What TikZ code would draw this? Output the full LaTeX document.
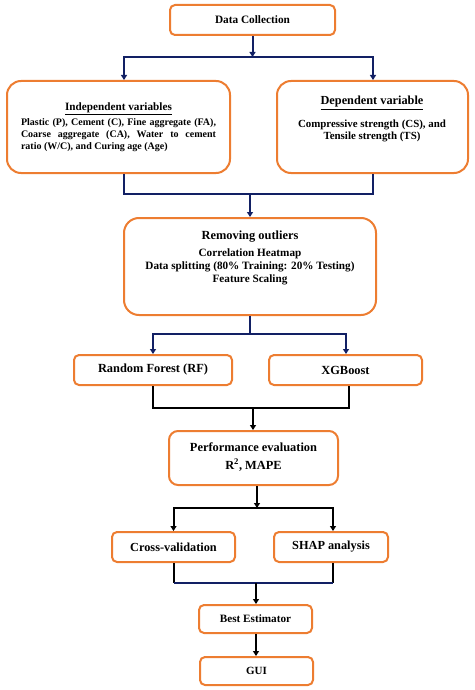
\documentclass[tikz,border=0pt]{standalone}
\usepackage{fontspec}
\setmainfont{Liberation Serif}
\usetikzlibrary{arrows.meta,calc}
\definecolor{boxorange}{RGB}{237,125,49}
\definecolor{navyline}{RGB}{18,32,100}
\begin{document}
\begin{tikzpicture}[x=1pt,y=-1pt,
  box/.style={draw=boxorange,line width=2pt,fill=white,rounded corners=#1,inner sep=0pt},
  box/.default=5pt,
  txt/.style={font=\bfseries,align=center,inner sep=0pt},
  nline/.style={draw=navyline,line width=2pt},
  bline/.style={draw=black,line width=2pt},
  tip/.style={-{Triangle[width=6pt,length=5pt]}}]
\useasboundingbox (0,0) rectangle (474,690);
% boxes
\node[box, minimum width=165pt, minimum height=30pt] (dc) at (252.5,20) {};
\node[box=14pt, minimum width=223pt, minimum height=92pt] (ind) at (118.5,127) {};
\node[box=14pt, minimum width=191pt, minimum height=92pt] (dep) at (372.5,127) {};
\node[box=15pt, minimum width=252pt, minimum height=97pt] (rem) at (250,266.5) {};
\node[box, minimum width=158pt, minimum height=30pt] (rf) at (153,370) {};
\node[box, minimum width=153pt, minimum height=30pt] (xgb) at (345.5,370) {};
\node[box=9pt, minimum width=169pt, minimum height=54pt] (perf) at (253.5,458) {};
\node[box, minimum width=123pt, minimum height=30pt] (cv) at (173.5,547) {};
\node[box, minimum width=114pt, minimum height=30pt] (shap) at (331,547) {};
\node[box, minimum width=113pt, minimum height=28pt] (best) at (255.5,619) {};
\node[box, minimum width=113pt, minimum height=28pt] (gui) at (256.5,671) {};
% texts
\node[txt,font=\bfseries\fontsize{11.3}{13}\selectfont] (dct) at (dc.center) {Data Collection};
\node[txt,font=\bfseries\fontsize{11.2}{13}\selectfont] (indh) at (118.5,109) {\underline{Independent variables}};
\node[txt,font=\bfseries\fontsize{10}{11.8}\selectfont,text width=195pt,align=justify] (indb) at (118.5,135) {Plastic (P), Cement (C), Fine aggregate (FA),\linebreak Coarse aggregate (CA), Water to cement\linebreak ratio (W/C), and Curing age (Age)};
\node[txt,font=\bfseries\fontsize{12.3}{14}\selectfont] (deph) at (372,103) {\underline{Dependent variable}};
\node[txt,font=\bfseries\fontsize{10.9}{12.7}\selectfont] (depb) at (372,131) {Compressive strength (CS), and\\Tensile strength (TS)};
\node[txt,font=\bfseries\fontsize{12.4}{14}\selectfont] (remh) at (250,237) {Removing outliers};
\node[txt,font=\bfseries\fontsize{11.2}{13.3}\selectfont] (remb) at (250,267) {Correlation Heatmap\\Data splitting (80\% Training: 20\% Testing)\\Feature Scaling};
\node[txt,font=\bfseries\fontsize{12.4}{14}\selectfont] (rft) at (rf.center) {Random Forest (RF)};
\node[txt,font=\bfseries\fontsize{12.4}{14}\selectfont] (xgbt) at (xgb.center) {XGBoost};
\node[txt,font=\bfseries\fontsize{12.4}{17.5}\selectfont] (perft) at (253.5,457) {Performance evaluation\\R\textsuperscript{2}, MAPE};
\node[txt,font=\bfseries\fontsize{12.3}{14}\selectfont] (cvt) at (cv.center) {Cross-validation};
\node[txt,font=\bfseries\fontsize{12.3}{14}\selectfont] (shapt) at (shap.center) {SHAP analysis};
\node[txt,font=\bfseries\fontsize{11.2}{13}\selectfont] (bestt) at (best.center) {Best Estimator};
\node[txt,font=\bfseries\fontsize{11}{13}\selectfont] (guit) at (gui.center) {GUI};
% junction coordinates
\coordinate (j1) at (252.5,57);
\coordinate (j2) at (250,194);
\coordinate (j3) at (250,334);
\coordinate (j4) at (253,408);
\coordinate (j5) at (257,508);
\coordinate (j6) at (256,583);
\coordinate (c1) at (173.5,583);
\coordinate (c2) at (333,583);
% connectors
\draw[nline,tip] (dc.south) -- (j1);
\draw[nline,tip] (j1) -| ([xshift=5.5pt]ind.north);
\draw[nline,tip] (j1) -| ([xshift=0.5pt]dep.north);
\draw[nline] ([xshift=5.5pt]ind.south) |- (j2);
\draw[nline] ([xshift=0.5pt]dep.south) |- (j2);
\draw[nline,tip] (j2) -- (rem.north);
\draw[nline] (rem.south) -- (j3);
\draw[nline,tip] (j3) -| (rf.north);
\draw[nline,tip] (j3) -| ([xshift=0.5pt]xgb.north);
\draw[bline] (rf.south) |- (j4);
\draw[bline] ([xshift=3.5pt]xgb.south) |- (j4);
\draw[bline,tip] (j4) -- (j4 |- perf.north);
\draw[bline,tip] (j5 |- perf.south) -- (j5);
\draw[bline,tip] (j5) -| (cv.north);
\draw[bline,tip] (j5) -| ([xshift=2pt]shap.north);
\draw[bline] (cv.south) -- (c1);
\draw[bline] ([xshift=2pt]shap.south) -- (c2);
\draw[nline] (c1) -- (c2);
\draw[bline,tip] (j6) -- (j6 |- best.north);
\draw[bline,tip] (j6 |- best.south) -- (j6 |- gui.north);
\end{tikzpicture}
\end{document}
